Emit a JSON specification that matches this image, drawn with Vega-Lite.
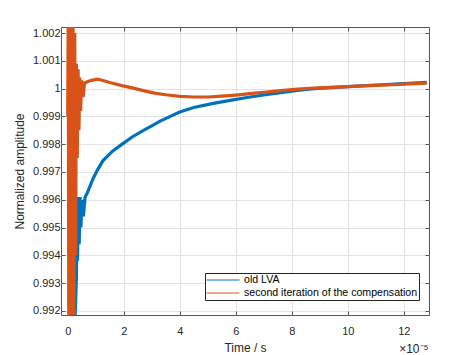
{
  "$schema": "https://vega.github.io/schema/vega-lite/v6.json",
  "width": 368,
  "height": 288,
  "autosize": {"type": "none"},
  "padding": {"left": 61, "top": 27, "right": 45, "bottom": 40},
  "background": "white",
  "config": {
    "font": "Liberation Sans",
    "view": {"stroke": "#555555", "strokeWidth": 1}
  },
  "data": {"values": [
    {"t": 0.0, "value": 0.9850, "series": "old LVA"},
    {"t": 1.5e-6, "value": 0.9860, "series": "old LVA"},
    {"t": 2.2e-6, "value": 0.9905, "series": "old LVA"},
    {"t": 2.7e-6, "value": 0.9920, "series": "old LVA"},
    {"t": 3.1e-6, "value": 0.9932, "series": "old LVA"},
    {"t": 3.3e-6, "value": 0.9961, "series": "old LVA"},
    {"t": 3.5e-6, "value": 0.9938, "series": "old LVA"},
    {"t": 3.8e-6, "value": 0.9960, "series": "old LVA"},
    {"t": 4.1e-6, "value": 0.9944, "series": "old LVA"},
    {"t": 4.4e-6, "value": 0.9961, "series": "old LVA"},
    {"t": 4.7e-6, "value": 0.9950, "series": "old LVA"},
    {"t": 5.1e-6, "value": 0.9960, "series": "old LVA"},
    {"t": 5.6e-6, "value": 0.9954, "series": "old LVA"},
    {"t": 6.2e-6, "value": 0.9961, "series": "old LVA"},
    {"t": 7.0e-6, "value": 0.99625, "series": "old LVA"},
    {"t": 8.0e-6, "value": 0.9965, "series": "old LVA"},
    {"t": 9.0e-6, "value": 0.99675, "series": "old LVA"},
    {"t": 1.05e-5, "value": 0.99705, "series": "old LVA"},
    {"t": 1.26e-5, "value": 0.99741, "series": "old LVA"},
    {"t": 1.6e-5, "value": 0.99775, "series": "old LVA"},
    {"t": 1.97e-5, "value": 0.99802, "series": "old LVA"},
    {"t": 2.3e-5, "value": 0.99826, "series": "old LVA"},
    {"t": 2.69e-5, "value": 0.99849, "series": "old LVA"},
    {"t": 3.0e-5, "value": 0.99866, "series": "old LVA"},
    {"t": 3.3e-5, "value": 0.99883, "series": "old LVA"},
    {"t": 3.7e-5, "value": 0.99902, "series": "old LVA"},
    {"t": 4.0e-5, "value": 0.99916, "series": "old LVA"},
    {"t": 4.5e-5, "value": 0.99932, "series": "old LVA"},
    {"t": 5.2e-5, "value": 0.99947, "series": "old LVA"},
    {"t": 5.8e-5, "value": 0.99958, "series": "old LVA"},
    {"t": 6.4e-5, "value": 0.99968, "series": "old LVA"},
    {"t": 7.0e-5, "value": 0.99977, "series": "old LVA"},
    {"t": 7.6e-5, "value": 0.99986, "series": "old LVA"},
    {"t": 8.2e-5, "value": 0.99994, "series": "old LVA"},
    {"t": 8.8e-5, "value": 1.0, "series": "old LVA"},
    {"t": 1.0e-4, "value": 1.00007, "series": "old LVA"},
    {"t": 1.12e-4, "value": 1.00014, "series": "old LVA"},
    {"t": 1.2e-4, "value": 1.00018, "series": "old LVA"},
    {"t": 1.282e-4, "value": 1.00023, "series": "old LVA"},
    {"t": 0.0, "value": 0.9990, "series": "second iteration of the compensation"},
    {"t": 2e-7, "value": 1.0030, "series": "second iteration of the compensation"},
    {"t": 4e-7, "value": 0.9900, "series": "second iteration of the compensation"},
    {"t": 7e-7, "value": 1.0030, "series": "second iteration of the compensation"},
    {"t": 1.0e-6, "value": 0.9900, "series": "second iteration of the compensation"},
    {"t": 1.3e-6, "value": 1.0030, "series": "second iteration of the compensation"},
    {"t": 1.6e-6, "value": 0.9905, "series": "second iteration of the compensation"},
    {"t": 1.9e-6, "value": 1.0028, "series": "second iteration of the compensation"},
    {"t": 2.2e-6, "value": 0.9910, "series": "second iteration of the compensation"},
    {"t": 2.5e-6, "value": 1.0020, "series": "second iteration of the compensation"},
    {"t": 2.8e-6, "value": 0.9940, "series": "second iteration of the compensation"},
    {"t": 3.1e-6, "value": 1.0009, "series": "second iteration of the compensation"},
    {"t": 3.4e-6, "value": 0.9975, "series": "second iteration of the compensation"},
    {"t": 3.7e-6, "value": 1.0007, "series": "second iteration of the compensation"},
    {"t": 4.0e-6, "value": 0.9985, "series": "second iteration of the compensation"},
    {"t": 4.3e-6, "value": 1.0004, "series": "second iteration of the compensation"},
    {"t": 4.6e-6, "value": 0.9992, "series": "second iteration of the compensation"},
    {"t": 5.0e-6, "value": 1.0003, "series": "second iteration of the compensation"},
    {"t": 5.5e-6, "value": 0.9997, "series": "second iteration of the compensation"},
    {"t": 6.0e-6, "value": 1.0002, "series": "second iteration of the compensation"},
    {"t": 7.0e-6, "value": 1.00025, "series": "second iteration of the compensation"},
    {"t": 8.5e-6, "value": 1.0003, "series": "second iteration of the compensation"},
    {"t": 1.05e-5, "value": 1.00034, "series": "second iteration of the compensation"},
    {"t": 1.2e-5, "value": 1.00031, "series": "second iteration of the compensation"},
    {"t": 1.5e-5, "value": 1.00022, "series": "second iteration of the compensation"},
    {"t": 1.9e-5, "value": 1.00012, "series": "second iteration of the compensation"},
    {"t": 2.3e-5, "value": 1.00003, "series": "second iteration of the compensation"},
    {"t": 2.7e-5, "value": 0.99993, "series": "second iteration of the compensation"},
    {"t": 3.1e-5, "value": 0.99984, "series": "second iteration of the compensation"},
    {"t": 3.5e-5, "value": 0.99978, "series": "second iteration of the compensation"},
    {"t": 4.0e-5, "value": 0.99972, "series": "second iteration of the compensation"},
    {"t": 4.5e-5, "value": 0.9997, "series": "second iteration of the compensation"},
    {"t": 5.0e-5, "value": 0.9997, "series": "second iteration of the compensation"},
    {"t": 5.5e-5, "value": 0.99973, "series": "second iteration of the compensation"},
    {"t": 6.0e-5, "value": 0.99977, "series": "second iteration of the compensation"},
    {"t": 6.5e-5, "value": 0.99982, "series": "second iteration of the compensation"},
    {"t": 7.0e-5, "value": 0.99987, "series": "second iteration of the compensation"},
    {"t": 7.6e-5, "value": 0.99993, "series": "second iteration of the compensation"},
    {"t": 8.2e-5, "value": 0.99998, "series": "second iteration of the compensation"},
    {"t": 8.8e-5, "value": 1.00002, "series": "second iteration of the compensation"},
    {"t": 1.0e-4, "value": 1.00007, "series": "second iteration of the compensation"},
    {"t": 1.12e-4, "value": 1.00013, "series": "second iteration of the compensation"},
    {"t": 1.2e-4, "value": 1.00016, "series": "second iteration of the compensation"},
    {"t": 1.282e-4, "value": 1.0002, "series": "second iteration of the compensation"}
  ]},
  "layer": [
    {
      "mark": {"type": "line", "clip": true, "strokeWidth": 3.2},
      "encoding": {
        "x": {"field": "t", "type": "quantitative",
          "scale": {"domain": [-2.4e-6, 1.29e-4], "nice": false, "zero": false},
          "axis": {"orient": "bottom", "values": [0, 2e-5, 4e-5, 6e-5, 8e-5, 1e-4, 1.2e-4],
            "labelExpr": "format(round(datum.value*1e5), 'd')",
            "title": "Time / s", "titleFontSize": 12, "titleFontWeight": "normal", "titleColor": "#262626", "titlePadding": 6,
            "labelFontSize": 11, "labelColor": "#262626", "labelPadding": 14,
            "tickSize": -4, "tickColor": "#555555", "domain": false,
            "grid": true, "gridColor": "#e3e3e3"}},
        "y": {"field": "value", "type": "quantitative",
          "scale": {"domain": [0.99185, 1.00222], "nice": false, "zero": false},
          "axis": {"orient": "left", "values": [0.992, 0.993, 0.994, 0.995, 0.996, 0.997, 0.998, 0.999, 1.0, 1.001, 1.002],
            "format": ".3~f",
            "title": "Normalized amplitude", "titleFontSize": 12, "titleFontWeight": "normal", "titleColor": "#262626", "titlePadding": 6,
            "labelFontSize": 11, "labelColor": "#262626", "labelPadding": 5,
            "tickSize": -4, "tickColor": "#555555", "domain": false,
            "grid": true, "gridColor": "#e3e3e3"}},
        "color": {"field": "series", "type": "nominal",
          "scale": {"domain": ["old LVA", "second iteration of the compensation"], "range": ["#0072BD", "#D95319"]},
          "legend": {"title": null, "orient": "none", "legendX": 144, "legendY": 246,
            "fillColor": "white", "strokeColor": "#262626", "padding": 1, "rowPadding": 1,
            "labelFontSize": 10.6, "labelColor": "#000000", "labelLimit": 400,
            "symbolType": "M-1,0H5", "symbolSize": 121, "symbolStrokeWidth": 1, "labelOffset": 26}}
      }
    },
    {
      "mark": {"type": "line", "opacity": 0, "strokeWidth": 0},
      "encoding": {
        "x": {"field": "t", "type": "quantitative",
          "axis": {"orient": "top", "values": [0, 2e-5, 4e-5, 6e-5, 8e-5, 1e-4, 1.2e-4], "labels": false, "title": null, "grid": false, "domain": false, "tickSize": -4, "tickColor": "#555555"}},
        "y": {"field": "value", "type": "quantitative",
          "axis": {"orient": "right", "values": [0.992, 0.993, 0.994, 0.995, 0.996, 0.997, 0.998, 0.999, 1.0, 1.001, 1.002], "labels": false, "title": null, "grid": false, "domain": false, "tickSize": -4, "tickColor": "#555555"}},
        "detail": {"field": "series"}
      }
    },
    {
      "mark": {"type": "line", "opacity": 0, "strokeWidth": 0},
      "encoding": {
        "x": {"field": "t", "type": "quantitative",
          "axis": {"orient": "bottom", "labels": false, "ticks": false, "grid": false, "domain": false,
            "title": "×10⁻⁵", "titleFontSize": 12, "titleFontWeight": "normal", "titleColor": "#262626",
            "titleAnchor": "end", "titleAlign": "right", "titleBaseline": "alphabetic", "titleX": 367, "titleY": 37}},
        "detail": {"field": "series"}
      }
    }
  ],
  "resolve": {"axis": {"x": "independent", "y": "independent"}}
}
